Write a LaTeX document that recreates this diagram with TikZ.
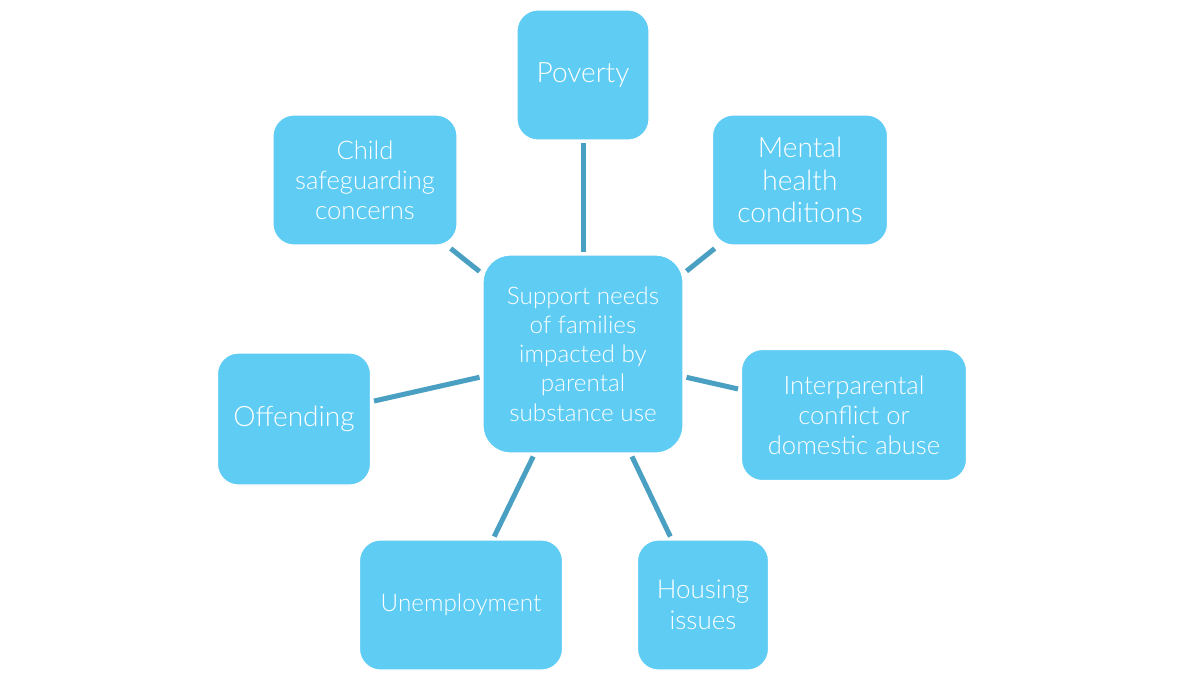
\documentclass[tikz,border=0pt]{standalone}
\usepackage{fontspec}
\setmainfont{Lato}[UprightFont={* Light}]
\usetikzlibrary{positioning}
\definecolor{boxblue}{RGB}{95,204,244}
\definecolor{linkblue}{RGB}{74,160,194}

\tikzset{
  needbox/.style={draw=white, line width=0.6pt, fill=boxblue, rounded corners=0.42cm,
    text=white, align=center, inner sep=0pt, outer sep=0.07cm},
  link/.style={linkblue, line width=0.1cm}
}

\begin{document}
\begin{tikzpicture}[x=0.02cm, y=-0.02cm]

%---------------------------------------
% Frame (1200 x 681)
%---------------------------------------
\useasboundingbox (0,0) rectangle (1200,681);

%---------------------------------------
% Centre box
%---------------------------------------
\node[needbox, rounded corners=0.55cm, minimum width=4cm, minimum height=3.96cm,
      font=\fontsize{13.8}{16.6}\selectfont] (hub) at (583,354)
  {Support needs\\of families\\impacted by\\parental\\substance use};

%---------------------------------------
% Outer boxes
%---------------------------------------
\node[needbox, minimum width=2.64cm, minimum height=2.6cm,
      font=\fontsize{16}{18}\selectfont] (poverty) at (583,75) {Poverty};
\node[needbox, minimum width=3.68cm, minimum height=2.6cm,
      font=\fontsize{14.6}{17.2}\selectfont] (child) at (365,180)
  {Child\\safeguarding\\concerns};
\node[needbox, minimum width=3.5cm, minimum height=2.6cm,
      font=\fontsize{16}{18.6}\selectfont] (mental) at (800,180)
  {Mental\\health\\conditions};
\node[needbox, minimum width=3.06cm, minimum height=2.64cm,
      font=\fontsize{16}{18}\selectfont] (offending) at (294,419) {Offending};
\node[needbox, minimum width=4.5cm, minimum height=2.62cm,
      font=\fontsize{14.6}{17.2}\selectfont] (conflict) at (854,415)
  {Interparental\\conflict or\\domestic abuse};
\node[needbox, minimum width=4.06cm, minimum height=2.6cm,
      font=\fontsize{13.8}{16.6}\selectfont] (unemploy) at (461,605) {Unemployment};
\node[needbox, minimum width=2.62cm, minimum height=2.6cm,
      font=\fontsize{14.8}{17.4}\selectfont] (housing) at (703,605)
  {Housing\\issues};

%---------------------------------------
% Connectors
%---------------------------------------
\foreach \n in {poverty,child,mental,offending,conflict,unemploy,housing}
  \draw[link] (hub) -- (\n);

\end{tikzpicture}
\end{document}
